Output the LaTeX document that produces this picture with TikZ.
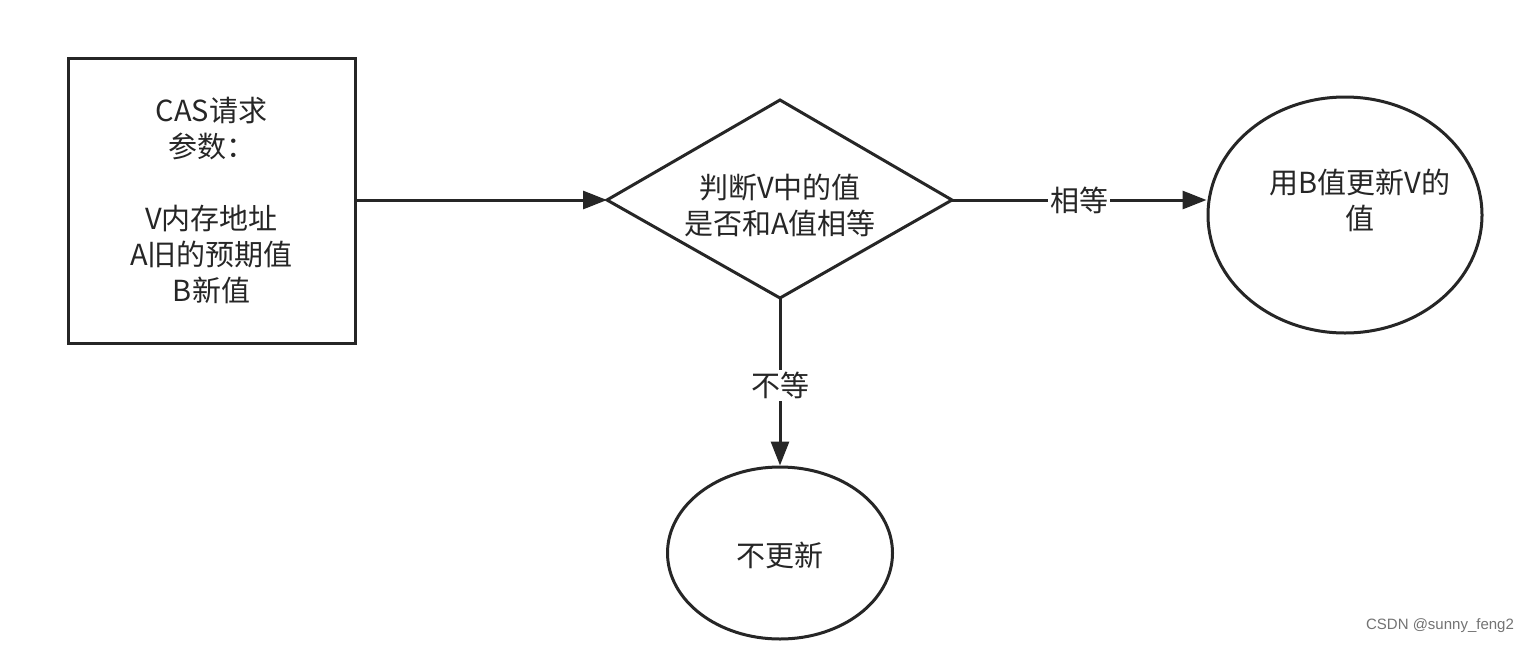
\documentclass[tikz,border=0pt]{standalone}
\usepackage{fontspec}
\newfontfamily\cjk{Noto Sans CJK SC}
\usetikzlibrary{shapes.geometric,arrows.meta}
\begin{document}
\begin{tikzpicture}[x=1pt,y=-1pt,
  every node/.style={font=\cjk\fontsize{29}{36}\selectfont,align=center,text=black!85},
  ln/.style={line width=3pt,draw=black!85},
  arr/.style={ln,-{Triangle[length=24pt,width=18pt]}},
  lbl/.style={fill=white,inner sep=2pt}]
\useasboundingbox (0,0) rectangle (1534,646);
\fill[white] (0,0) rectangle (1534,646);
\node[ln,draw,minimum width=287pt,minimum height=285pt,inner sep=0pt] (req) at (211.5,200.5) {};
\node at (211.5,200.5) {CAS请求\\参数：\\[36pt]V内存地址\\A旧的预期值\\B新值};
\draw[ln,line join=miter] (607,200) coordinate (dl) -- (780,100) -- (952,200) coordinate (dr) -- (780,298) coordinate (db) -- cycle;
\node (dec) at (780,205) {判断V中的值\\是否和A值相等};
\node[ln,draw,ellipse,minimum width=274pt,minimum height=236pt,inner sep=0pt] (upd) at (1345,215) {};
\node at (1360,200) {用B值更新V的\\值};
\node[ln,draw,ellipse,minimum width=225pt,minimum height=172pt,inner sep=0pt] (no) at (780,553) {};
\node at (780,555) {不更新};
\draw[arr] (req.east |- dl) -- (dl);
\draw[arr] (dr) -- (upd.west |- dr) node[lbl,pos=0.5] {相等};
\draw[arr] (db) -- (no.north) node[lbl,pos=0.52] {不等};
\node[font=\fontspec{Liberation Sans}\fontsize{15}{18}\selectfont,text=black!55] (wm) at (1440,626) {CSDN @sunny\_feng2};
\end{tikzpicture}
\end{document}
